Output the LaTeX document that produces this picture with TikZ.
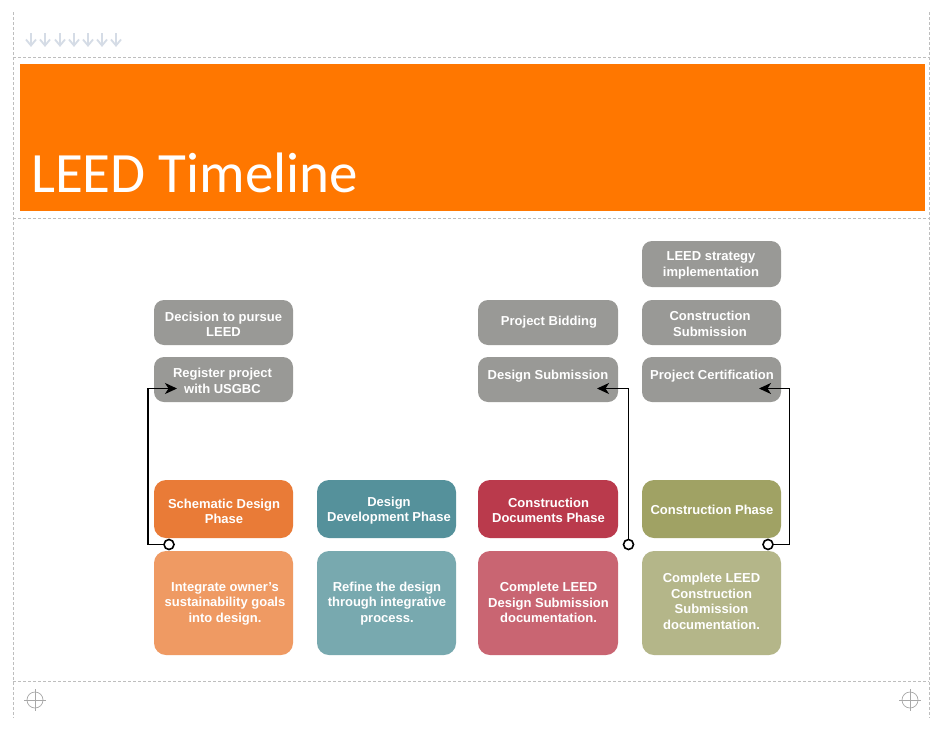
\documentclass[tikz,border=0pt]{standalone}
\usepackage{fontspec}
\setmainfont{Liberation Sans}
\newfontfamily\titlefont{Carlito}
\usetikzlibrary{arrows.meta}
\definecolor{cGrey}{HTML}{999996}
\definecolor{cOrange}{HTML}{E97B37}
\definecolor{cTeal}{HTML}{55919B}
\definecolor{cRed}{HTML}{BA3A4C}
\definecolor{cOlive}{HTML}{A0A264}
\definecolor{cOrangeL}{HTML}{EF9A63}
\definecolor{cTealL}{HTML}{78A9AF}
\definecolor{cRedL}{HTML}{C96572}
\definecolor{cOliveL}{HTML}{B4B689}
\definecolor{cBanner}{HTML}{FF7700}
\definecolor{cGuide}{HTML}{BEBEBE}
\definecolor{cMark}{HTML}{A8A8A8}
\definecolor{cTick}{HTML}{D5DCE6}
\tikzset{
  boxbg/.style={draw=none,inner sep=0pt},
  boxtext/.style={text=white,font=\fontsize{13}{15.5}\selectfont\bfseries,align=center,inner sep=0pt},
  guide/.style={draw=cGuide,line width=0.6pt,dash pattern=on 3pt off 2pt},
  link/.style={draw=black,line width=1.7pt},
  linkarrow/.style={link,-{Stealth[length=12pt,width=11pt,inset=3.5pt]}},
  startdot/.style={circle,draw=black,fill=white,line width=1.6pt,minimum size=10pt,inner sep=0pt},
  crop/.style={draw=cMark,line width=0.7pt},
  tick/.style={draw=cTick,line width=1.8pt},
}
\newcommand{\bx}[9]{%
  \path[boxbg,fill=#6,rounded corners=\ifdim#5pt>450pt 12pt\else 10pt\fi] (#2,#3) rectangle (#4,#5);
  \node[boxtext] (#1) at (#7,#8+1.5) {#9};
}
\newcommand{\tickarrow}[1]{%
  \draw[tick] (#1,33) -- (#1,45);
  \draw[tick] (#1-5,39.5) -- (#1,45.5) -- (#1+5,39.5);
}
\newcommand{\cropmark}[2]{%
  \draw[crop] (#1,#2) circle (8);
  \draw[crop] (#1-11,#2) -- (#1+11,#2);
  \draw[crop] (#1,#2-11) -- (#1,#2+11);
}
\begin{document}
\begin{tikzpicture}[x=1pt,y=-1pt]
\useasboundingbox (0,0) rectangle (942,728);
\fill[white] (0,0) rectangle (942,728);
% guides
\draw[guide] (13,57) -- (929,57);
\draw[guide] (13,218) -- (929,218);
\draw[guide] (13,681) -- (929,681);
\draw[guide] (13,12) -- (13,718);
\draw[guide] (929,12) -- (929,718);
% ticks
\foreach \x in {31,45,60,74,88,102,116} {\tickarrow{\x}}
% banner
\fill[cBanner] (19.5,64) rectangle (925,211);
\node[anchor=base west,text=white,inner sep=0pt,font=\fontsize{57}{62}\selectfont\titlefont] (title) at (31,192) {LEED Timeline};
% crop marks
\cropmark{35}{700}
\cropmark{910}{700}
% grey boxes
\bx{decide}{154}{300}{293}{345}{cGrey}{223.5}{323}{Decision to pursue\\LEED}
\bx{register}{154}{357}{293}{402}{cGrey}{222.5}{379.5}{Register project\\with USGBC}
\bx{bidding}{478}{300}{618}{345}{cGrey}{549}{321}{Project Bidding}
\bx{designsub}{478}{357}{618}{402}{cGrey}{548}{374.5}{Design Submission}
\bx{strategy}{642}{241}{781}{287}{cGrey}{711}{264}{LEED strategy\\implementation}
\bx{constsub}{642}{300}{781}{345}{cGrey}{710}{322.5}{Construction\\Submission}
\bx{cert}{642}{357}{781}{402}{cGrey}{712}{375}{Project Certification}
% phases
\bx{schem}{154}{480}{293}{538}{cOrange}{224}{510}{Schematic Design\\Phase}
\bx{dev}{317}{480}{456}{538}{cTeal}{389}{509}{Design\\Development Phase}
\bx{docs}{478}{480}{618}{538}{cRed}{548.5}{509}{Construction\\Documents Phase}
\bx{cons}{642}{480}{781}{538}{cOlive}{712}{508}{Construction Phase}
% details
\bx{d1}{154}{551}{293}{655}{cOrangeL}{225}{602}{Integrate owner's\\sustainability goals\\into design.}
\bx{d2}{317}{551}{456}{655}{cTealL}{387}{602}{Refine the design\\through integrative\\process.}
\bx{d3}{478}{551}{618}{655}{cRedL}{548.5}{601}{Complete LEED\\Design Submission\\documentation.}
\bx{d4}{642}{551}{781}{655}{cOliveL}{711.5}{600}{Complete LEED\\Construction\\Submission\\documentation.}
% connectors
\node[startdot] (s1) at (169,544.5) {};
\node[startdot] (s2) at (628.5,544.5) {};
\node[startdot] (s3) at (768,544.5) {};
\coordinate (e1) at (177,388.5);
\coordinate (e2) at (597,388.5);
\coordinate (e3) at (759,388.5);
\draw[linkarrow] (s1.west) -- (148,544.5) -- (148,388.5) -- (e1);
\draw[linkarrow] (s2.north) -- (628.5,388.5) -- (e2);
\draw[linkarrow] (s3.east) -- (789.5,544.5) -- (789.5,388.5) -- (e3);
\end{tikzpicture}
\end{document}
